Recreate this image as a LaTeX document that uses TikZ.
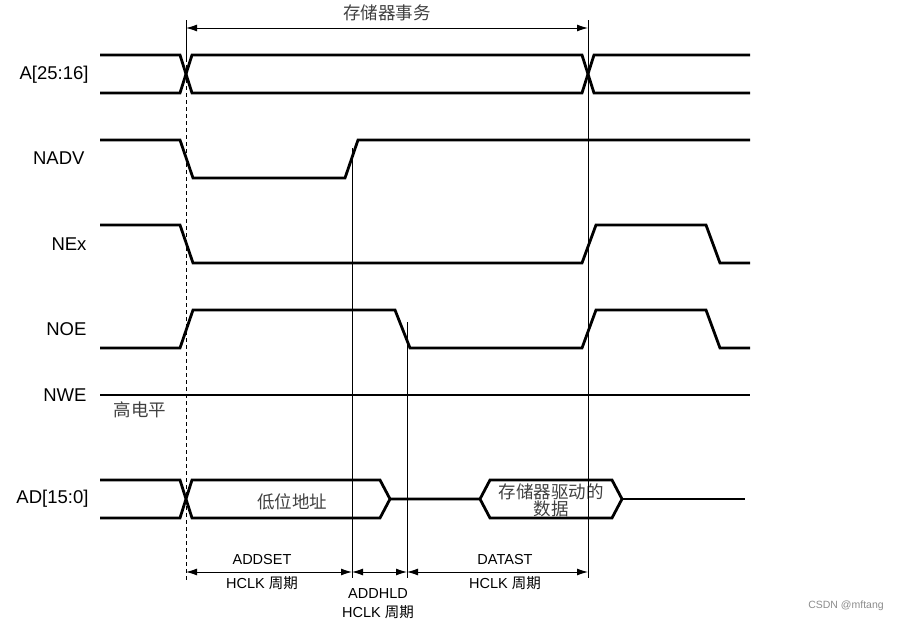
\documentclass[tikz,border=0pt]{standalone}
\usepackage{fontspec}
\setmainfont{Liberation Sans}
\newfontfamily\cjk{Noto Sans CJK SC}
\usetikzlibrary{arrows.meta}
\begin{document}
\begin{tikzpicture}[x=1pt,y=-1pt,
 sig/.style={line width=2.8pt,line join=miter},
 guide/.style={line width=0.9pt},
 dim/.style={line width=0.9pt,{Latex[length=11pt,width=7pt]}-{Latex[length=11pt,width=7pt]}},
 lab/.style={font=\fontsize{18.5}{20}\selectfont,anchor=east},
 small/.style={font=\fontsize{14.5}{16}\selectfont,align=center},
 zh/.style={font=\cjk\fontsize{17.5}{19}\selectfont,text=black!75,align=center}]
\useasboundingbox (0,0) rectangle (898,621);
% labels
\node[lab] (la) at (92,75) {A[25:16]};
\node[lab] (lb) at (88,158) {NADV};
\node[lab] (lc) at (90,244) {NEx};
\node[lab] (ld) at (90,329) {NOE};
\node[lab] (le) at (90,395) {NWE};
\node[lab] (lf) at (92,499) {AD[15:0]};
\node[zh,anchor=west] (hi) at (110,410) {高电平};
% A bus
\draw[sig] (100,55)--(180,55)--(192,93)--(582,93)--(594,55)--(750,55);
\draw[sig] (100,93)--(180,93)--(192,55)--(582,55)--(594,93)--(750,93);
% NADV
\draw[sig] (100,140)--(180,140)--(193,178)--(345,178)--(358,140)--(750,140);
% NEx
\draw[sig] (100,225)--(180,225)--(193,263)--(582,263)--(596,225)--(706,225)--(720,263)--(750,263);
% NOE
\draw[sig] (100,348)--(180,348)--(193,310)--(395,310)--(410,348)--(582,348)--(596,310)--(706,310)--(720,348)--(750,348);
% NWE
\draw[sig] (100,395)--(750,395);
% AD
\draw[sig] (100,480)--(180,480)--(192,518)--(380,518)--(390,499)--(380,480)--(192,480)--(180,518)--(100,518);
\draw[sig] (390,499)--(480,499)--(490,480)--(612,480)--(622,499)--(612,518)--(490,518)--(480,499);
\draw[sig] (622,499)--(745,499);
\node[zh] (t1) at (292,502) {低位地址};
\node[zh,font=\cjk\fontsize{17.5}{17}\selectfont] (t2) at (551,500) {存储器驱动的\\数据};
% guides
\coordinate (g1t) at (186,20); \coordinate (g1m) at (186,58); \coordinate (g1b) at (186,582);
\coordinate (g2t) at (352,148); \coordinate (g2b) at (352,578);
\coordinate (g3t) at (407,322); \coordinate (g3b) at (407,578);
\coordinate (g4t) at (588,20); \coordinate (g4b) at (588,578);
\draw[guide] (g1t)--(g1m);
\draw[guide,dash pattern=on 4pt off 3pt] (g1m)--(g1b);
\draw[guide] (g2t)--(g2b);
\draw[guide] (g3t)--(g3b);
\draw[guide] (g4t)--(g4b);
% dimensions
\coordinate (d1) at (186,28); \coordinate (d2) at (588,28);
\draw[dim] (d1)--(d2);
\node[zh] (tx) at (387,13) {存储器事务};
\coordinate (b1) at (186,572); \coordinate (b2) at (352,572);
\coordinate (b3) at (407,572); \coordinate (b4) at (588,572);
\draw[dim] (b1)--(b2);
\draw[dim] (b2)--(b3);
\draw[dim] (b3)--(b4);
\node[small] (s1) at (262,560) {ADDSET};
\node[small] (s2) at (262,583) {HCLK {\cjk 周期}};
\node[small] (s3) at (378,594) {ADDHLD};
\node[small] (s4) at (378,612) {HCLK {\cjk 周期}};
\node[small] (s5) at (505,560) {DATAST};
\node[small] (s6) at (505,583) {HCLK {\cjk 周期}};
\node[font=\fontsize{10.5}{11}\selectfont,text=black!45] (wm) at (846,606) {CSDN @mftang};
\end{tikzpicture}
\end{document}
